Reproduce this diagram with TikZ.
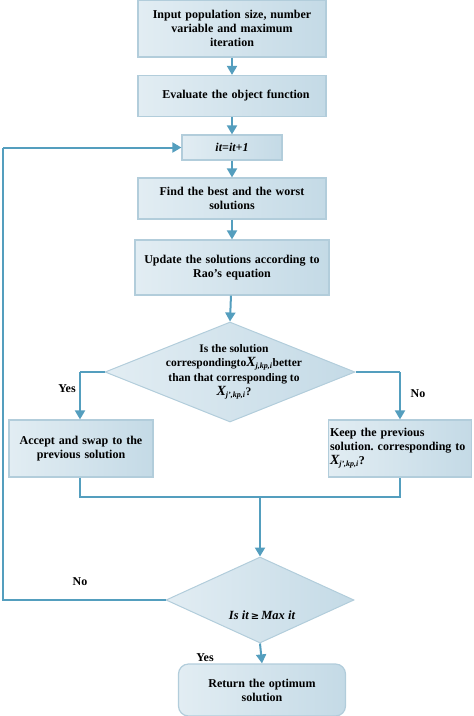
\documentclass[tikz,border=0pt]{standalone}
\usepackage{fontspec}
\setmainfont{Liberation Serif}
\usetikzlibrary{shapes.geometric,arrows.meta,positioning}
\frenchspacing
\definecolor{lineblue}{RGB}{84,158,190}
\definecolor{boxl}{RGB}{226,237,243}
\definecolor{boxr}{RGB}{196,218,230}
\definecolor{boxedge}{RGB}{178,205,219}
\tikzset{
  procbox/.style={draw=boxedge, line width=1.2pt, left color=boxl, right color=boxr, font=\bfseries\fontsize{12}{14}\selectfont, align=center, inner sep=2pt},
  decbox/.style={diamond, draw=boxedge, line width=1pt, left color=boxl, right color=boxr, inner sep=0pt, aspect=2.5},
  conn/.style={draw=lineblue, line width=2pt},
  arr/.style={conn, -{Triangle[length=9pt,width=10pt]}},
  lbl/.style={font=\bfseries\fontsize{12}{14}\selectfont}
}
\newcommand{\XX}[1]{{\bfseries\itshape\fontsize{14}{14}\selectfont X}\textsubscript{\bfseries\itshape #1}}
\begin{document}
\begin{tikzpicture}[x=1pt,y=-1pt]
\useasboundingbox (0,0) rectangle (474,716);
\node[procbox, minimum width=188pt, minimum height=57pt, text width=184pt] (b1) at (232,28.5) {Input population size, number\\variable and maximum\\iteration};
\node[procbox, minimum width=188pt, minimum height=41pt, text width=184pt] (b2) at (232,96) {\hspace*{8pt}Evaluate the object function};
\node[procbox, minimum width=100pt, minimum height=25pt, font=\bfseries\itshape\fontsize{12}{14}\selectfont] (b3) at (232,147.5) {it=it+1};
\node[procbox, minimum width=188pt, minimum height=41pt, text width=184pt] (b4) at (232,198.5) {Find the best and the worst\\solutions};
\node[procbox, minimum width=188pt, minimum height=55pt, text width=190pt] (b5) at (232,267.5) {Update the solutions according to\\Rao's equation};
\node[decbox, minimum width=250pt, minimum height=100pt] (d1) at (230,372) {};
\node[font=\bfseries\fontsize{11.5}{14.5}\selectfont, align=center] (d1t) at (234,372) {Is the solution\\correspondingto\XX{j,kp,i}better\\than that corresponding to\\\XX{j',kp,i}?};
\node[procbox, minimum width=143pt, minimum height=57pt, text width=140pt] (bl) at (81,448.5) {Accept and swap to the\\previous solution};
\node[procbox, minimum width=143pt, minimum height=57pt, text width=140pt, inner sep=1pt, align=left] (br) at (400,448.5) {Keep the previous\\solution. corresponding to\\\XX{j',kp,i}?};
\node[decbox, minimum width=188pt, minimum height=86pt] (d2) at (260,600) {};
\node[font=\bfseries\itshape\fontsize{12.5}{14}\selectfont] (d2t) at (262,615) {Is it\,\textup{\fontspec{DejaVu Serif}\fontsize{10}{10}\selectfont ≥}\,Max it};
\node[procbox, rounded corners=10pt, minimum width=167pt, minimum height=52pt, text width=160pt] (b6) at (262,690) {Return the optimum\\solution};
\coordinate (merge) at (260,497);
\coordinate (ml) at (80,497);
\coordinate (mr) at (400,497);
\coordinate (dl) at (80,372);
\coordinate (dr) at (400,372);
\coordinate (lp1) at (3,600);
\coordinate (lp2) at (3,147.5);
\draw[arr] (b1) -- (b2);
\draw[arr] (b2) -- (b3);
\draw[arr] (b3) -- (b4);
\draw[arr] (b4) -- (b5);
\draw[arr] (b5) -- (d1.north);
\draw[conn] (d1.west) -- (dl);
\draw[arr] (dl) -- (bl.north -| dl);
\draw[conn] (d1.east) -- (dr);
\draw[arr] (dr) -- (br.north -| dr);
\draw[conn] (bl.south -| ml) -- (ml) -- (mr) -- (br.south -| mr);
\draw[arr] (merge) -- (d2.north);
\draw[conn] (d2.west) -- (lp1) -- (lp2);
\draw[arr] (lp2) -- (b3.west);
\draw[arr] (d2.south) -- (b6.north);
\node[lbl] (yes1) at (67,389) {Yes};
\node[lbl] (no1) at (418,394) {No};
\node[lbl] (no2) at (80,582) {No};
\node[lbl] (yes2) at (205,658) {Yes};
\end{tikzpicture}
\end{document}
